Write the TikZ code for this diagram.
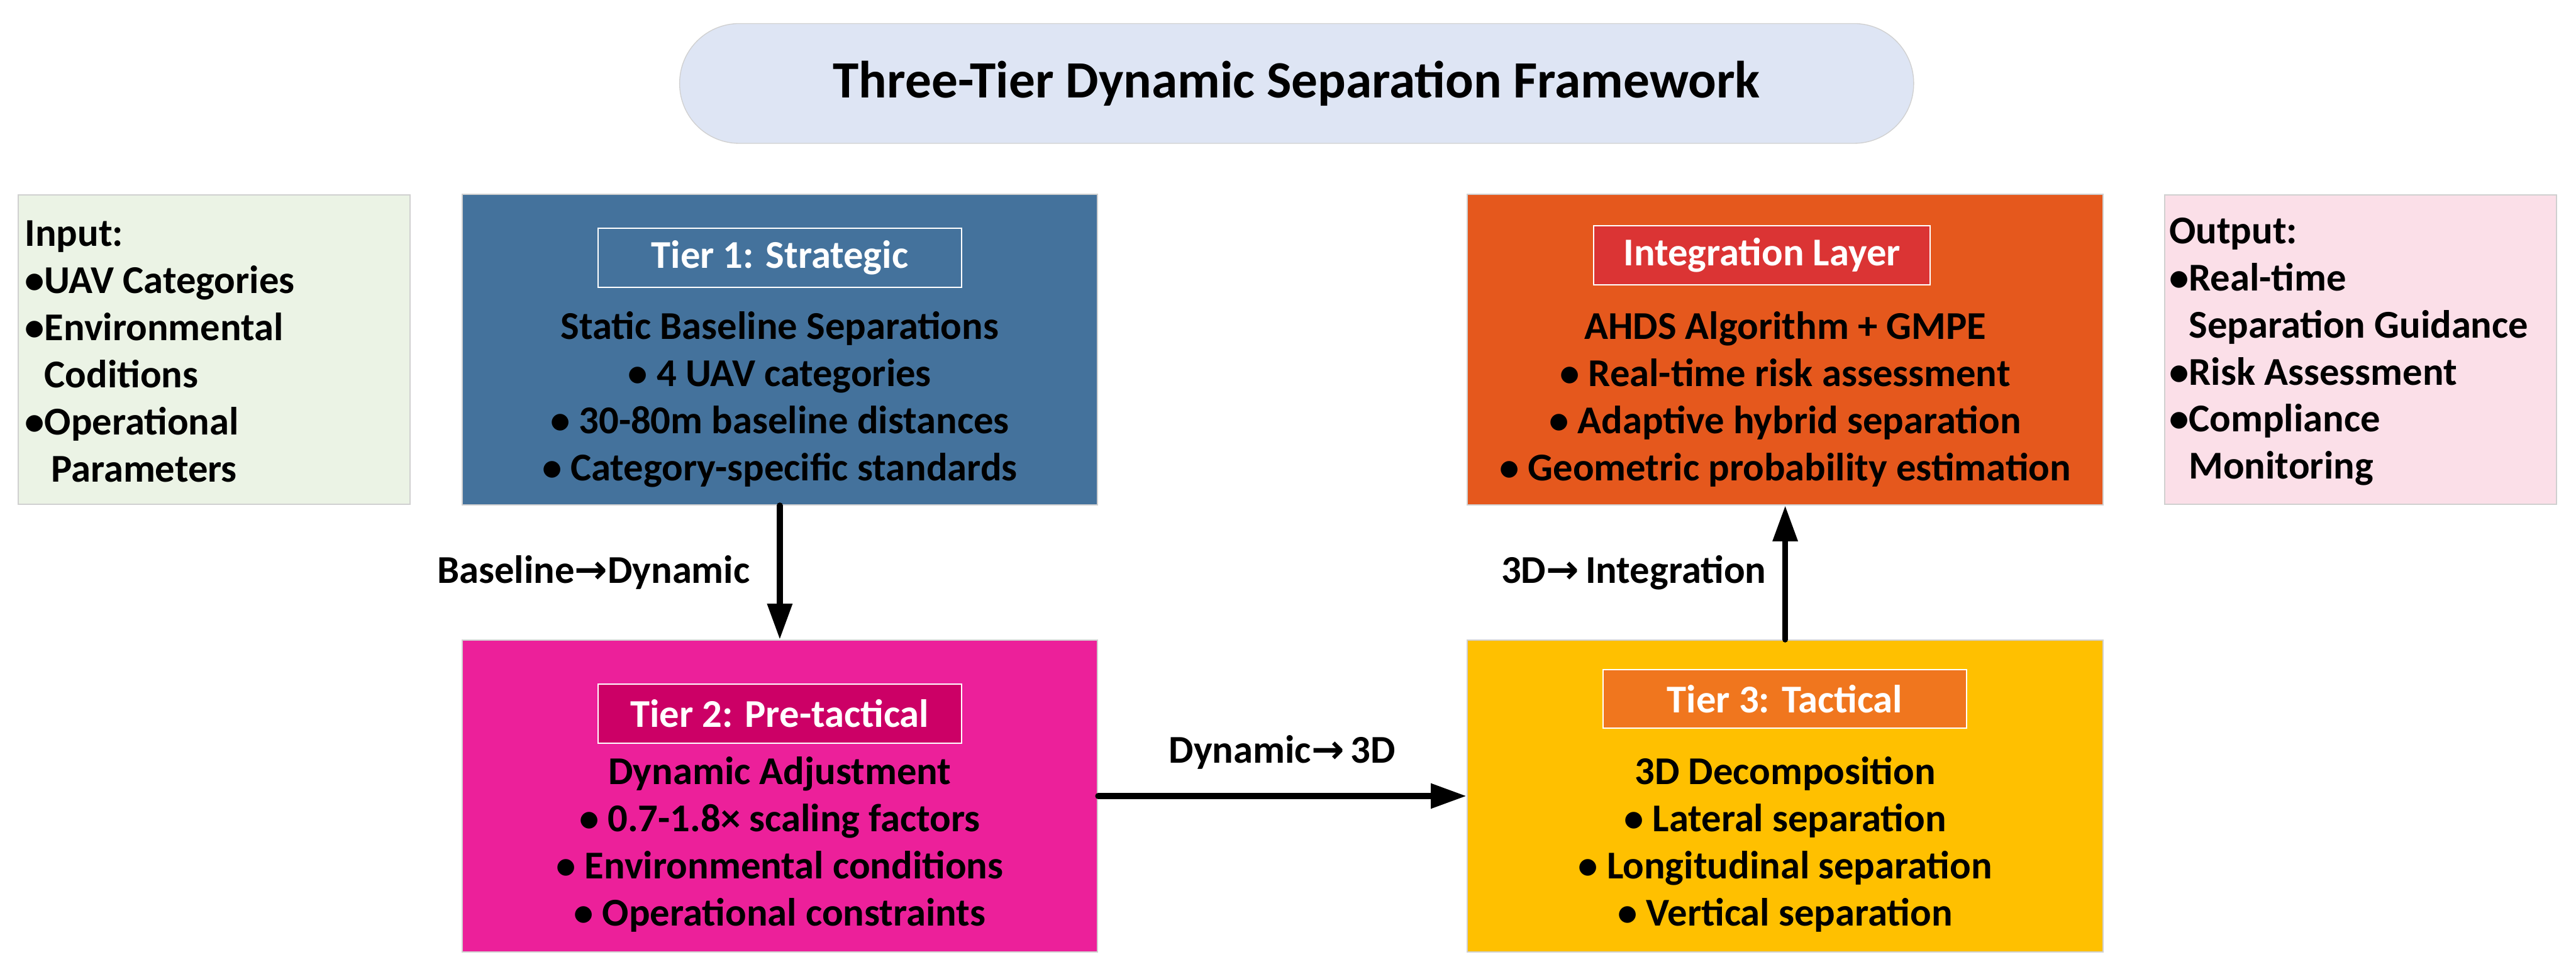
\documentclass[tikz,border=0pt]{standalone}
\usepackage{fontspec}
\setmainfont{Carlito}
\newfontfamily\arrowfont{DejaVu Sans}
\usetikzlibrary{arrows.meta}

\definecolor{titlefill}{HTML}{DEE5F4}
\definecolor{inputfill}{HTML}{EBF3E5}
\definecolor{outputfill}{HTML}{FBDFE8}
\definecolor{tieronefill}{HTML}{44729C}
\definecolor{tiertwofill}{HTML}{EC209A}
\definecolor{tiertwohead}{HTML}{CC0066}
\definecolor{tierthreefill}{HTML}{FFC000}
\definecolor{tierthreehead}{HTML}{F0761E}
\definecolor{integfill}{HTML}{E5581D}
\definecolor{integhead}{HTML}{DB3434}
\definecolor{boxline}{HTML}{D0D0D0}

\newcommand{\arrowsym}{{\arrowfont\bfseries →}}

\begin{document}
\begin{tikzpicture}[x=1cm,y=1cm,
    font=\fontsize{18.8}{22.5}\selectfont\bfseries,
    sidebox/.style={draw=boxline,line width=0.6pt,minimum width=6.57cm,
        minimum height=5.19cm,inner sep=0pt},
    tierbox/.style={draw=boxline,line width=0.6pt,minimum width=10.66cm,
        minimum height=5.21cm,inner sep=0pt},
    headbox/.style={draw=white,line width=0.6pt,text=white,minimum width=6.10cm,
        minimum height=0.99cm,inner sep=0pt},
    bodytext/.style={align=center,inner sep=0pt},
    flow/.style={line width=2.85pt,line cap=round,
        -{Triangle[length=0.6cm,width=0.4cm]}},
    flowlabel/.style={inner sep=0pt}]
    \useasboundingbox (0,0) rectangle (43.21,-16.42);

    % Title banner on top, input and output notes on the sides.
    \node[draw=boxline,fill=titlefill,rounded corners=1cm,minimum width=20.7cm,
        minimum height=2.01cm,font=\fontsize{25}{30}\selectfont\bfseries]
        (title) at (21.75,-1.40) {Three-Tier Dynamic Separation Framework};

    \node[sidebox,fill=inputfill] (input) at (3.595,-5.865) {};
    \node[anchor=west,align=left,inner sep=0pt] (inputtext) at (0.41,-5.90)
        {Input:\\•UAV Categories\\•Environmental\\\hphantom{•}Coditions\\
         •Operational\\\hphantom{•}\,Parameters};

    \node[sidebox,fill=outputfill] (output) at (39.60,-5.865) {};
    \node[anchor=west,align=left,inner sep=0pt] (outputtext) at (36.38,-5.90)
        {Output:\\•Real-time\\\hphantom{•}Separation Guidance\\•Risk Assessment\\
         •Compliance\\\hphantom{•}Monitoring};

    % Upper row: strategic tier and integration layer.
    \node[tierbox,fill=tieronefill] (tier1) at (13.08,-5.865) {};
    \node[headbox,fill=tieronefill] (tier1head) at (13.08,-4.325)
        {Tier 1: Strategic};
    \node[bodytext] (tier1body) at (13.08,-6.70)
        {Static Baseline Separations\\• 4 UAV categories\\
         • 30-80m baseline distances\\• Category-specific standards};

    \node[tierbox,minimum width=10.67cm,fill=integfill] (integ) at (29.945,-5.865) {};
    \node[headbox,minimum width=5.65cm,fill=integhead] (integhead) at (29.555,-4.285)
        {Integration Layer};
    \node[bodytext] (integbody) at (29.945,-6.70)
        {AHDS Algorithm + GMPE\\• Real-time risk assessment\\
         • Adaptive hybrid separation\\• Geometric probability estimation};

    % Lower row: pre-tactical and tactical tiers.
    \node[tierbox,minimum height=5.23cm,fill=tiertwofill] (tier2) at (13.08,-13.355) {};
    \node[headbox,fill=tiertwohead] (tier2head) at (13.08,-11.97)
        {Tier 2: Pre-tactical};
    \node[bodytext] (tier2body) at (13.08,-14.17)
        {Dynamic Adjustment\\• 0.7-1.8× scaling factors\\
         • Environmental conditions\\• Operational constraints};

    \node[tierbox,minimum width=10.67cm,minimum height=5.23cm,fill=tierthreefill]
        (tier3) at (29.945,-13.355) {};
    \node[headbox,fill=tierthreehead] (tier3head) at (29.94,-11.725)
        {Tier 3: Tactical};
    \node[bodytext] (tier3body) at (29.945,-14.17)
        {3D Decomposition\\• Lateral separation\\
         • Longitudinal separation\\• Vertical separation};

    % Flow between the tiers.
    \draw[flow] (tier1) -- node[flowlabel,midway,left=0.45cm] (baselinelbl)
        {Baseline\arrowsym Dynamic} (tier2);
    \draw[flow] (tier2) -- node[flowlabel,midway,above=0.4cm] (dynamiclbl)
        {Dynamic\arrowsym\,3D} (tier3);
    \draw[flow] (tier3) -- node[flowlabel,midway,left=0.27cm] (threedlbl)
        {3D\arrowsym\,Integration} (integ);
\end{tikzpicture}
\end{document}
